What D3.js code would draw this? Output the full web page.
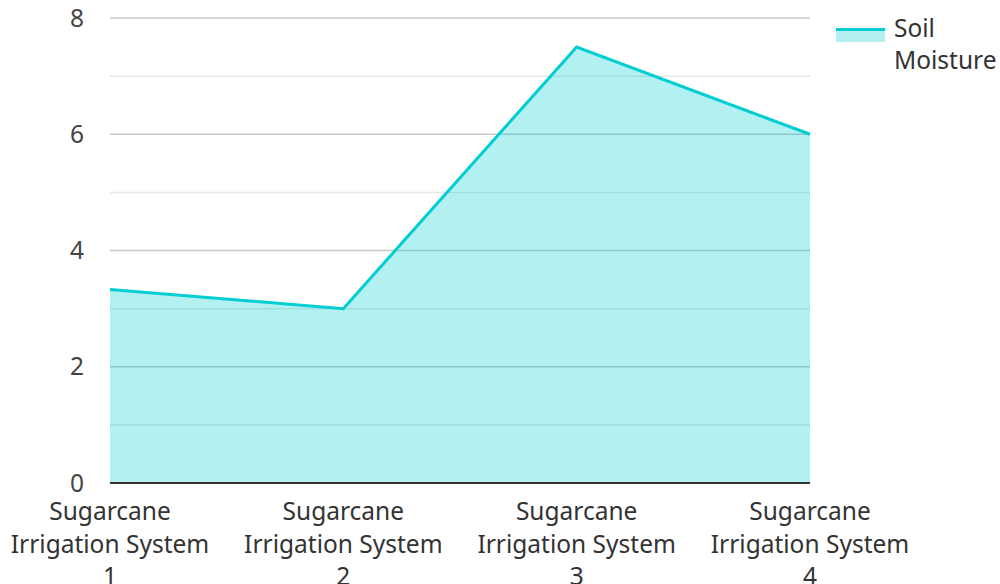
<!DOCTYPE html>
<html>
<head>
<meta charset="utf-8">
<script src="https://cdn.jsdelivr.net/npm/d3@7"></script>
<style>
  body { margin: 0; background: #fff; }
  text { font-family: "Noto Sans", sans-serif; }
</style>
</head>
<body>
<div id="chart"></div>
<script>
const categories = ["Sugarcane Irrigation System 1", "Sugarcane Irrigation System 2", "Sugarcane Irrigation System 3", "Sugarcane Irrigation System 4"];
const labelLines = [["Sugarcane", "Irrigation System", "1"], ["Sugarcane", "Irrigation System", "2"], ["Sugarcane", "Irrigation System", "3"], ["Sugarcane", "Irrigation System", "4"]];
const soilMoisture = [3.33, 3.0, 7.5, 6.0];
const yTicks = [0, 2, 4, 6, 8];
const minorTicks = [1, 3, 5, 7];

const width = 1000, height = 584;
const margin = { top: 18, right: 190, bottom: 101, left: 110 };
const fontSize = 24.5;

const svg = d3.select("#chart").append("svg")
    .attr("width", width)
    .attr("height", height);

const x = d3.scalePoint()
    .domain(categories)
    .range([margin.left, width - margin.right]);

const y = d3.scaleLinear()
    .domain([0, 8])
    .range([height - margin.bottom, margin.top]);

// gridlines
svg.append("g")
    .selectAll("line")
    .data(minorTicks)
    .join("line")
    .attr("x1", margin.left).attr("x2", width - margin.right)
    .attr("y1", d => y(d)).attr("y2", d => y(d))
    .attr("stroke", "#e6e6e6").attr("stroke-width", 1.5);

svg.append("g")
    .selectAll("line")
    .data(yTicks.filter(d => d !== 0))
    .join("line")
    .attr("x1", margin.left).attr("x2", width - margin.right)
    .attr("y1", d => y(d)).attr("y2", d => y(d))
    .attr("stroke", "#c8c8c8").attr("stroke-width", 1.5);

// area + line
const area = d3.area()
    .x((d, i) => x(categories[i]))
    .y0(y(0))
    .y1(d => y(d));

const line = d3.line()
    .x((d, i) => x(categories[i]))
    .y(d => y(d));

svg.append("path")
    .datum(soilMoisture)
    .attr("d", area)
    .attr("fill", "#00ced1")
    .attr("fill-opacity", 0.3);

svg.append("path")
    .datum(soilMoisture)
    .attr("d", line)
    .attr("fill", "none")
    .attr("stroke", "#00ced1")
    .attr("stroke-width", 3)
    .attr("stroke-linejoin", "miter");

// baseline axis
svg.append("line")
    .attr("x1", margin.left).attr("x2", width - margin.right)
    .attr("y1", y(0)).attr("y2", y(0))
    .attr("stroke", "#333").attr("stroke-width", 2);

// y tick labels
svg.append("g")
    .selectAll("text")
    .data(yTicks)
    .join("text")
    .attr("x", 84)
    .attr("y", d => y(d))
    .attr("dy", "0.35em")
    .attr("text-anchor", "end")
    .attr("font-size", fontSize)
    .attr("fill", "#444")
    .text(d => d);

// x labels
const xl = svg.append("g")
    .selectAll("text")
    .data(categories)
    .join("text")
    .attr("x", d => x(d))
    .attr("text-anchor", "middle")
    .attr("font-size", fontSize)
    .attr("fill", "#333");

xl.selectAll("tspan")
    .data((d, i) => labelLines[i])
    .join("tspan")
    .attr("x", function() { return d3.select(this.parentNode).attr("x"); })
    .attr("y", (d, i) => 520 + i * 32.5)
    .text(d => d);

// legend
const lg = svg.append("g").attr("transform", "translate(836,28)");
lg.append("rect")
    .attr("x", 0).attr("y", 0).attr("width", 49).attr("height", 14)
    .attr("fill", "#00ced1").attr("fill-opacity", 0.3);
lg.append("line")
    .attr("x1", 0).attr("x2", 49).attr("y1", 1.5).attr("y2", 1.5)
    .attr("stroke", "#00ced1").attr("stroke-width", 3);
lg.append("text")
    .attr("x", 58).attr("y", 9)
    .attr("font-size", fontSize).attr("fill", "#333")
    .text("Soil");
lg.append("text")
    .attr("x", 58).attr("y", 40.5)
    .attr("font-size", fontSize).attr("fill", "#333")
    .text("Moisture");
</script>
</body>
</html>
